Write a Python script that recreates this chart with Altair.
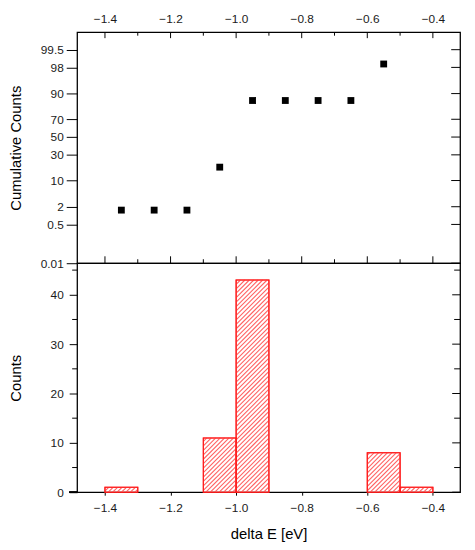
import altair as alt
import pandas as pd
from statistics import NormalDist

# ---- data ----
bin_start = [-1.4, -1.3, -1.2, -1.1, -1.0, -0.9, -0.8, -0.7, -0.6, -0.5]
bin_width = 0.1
counts = [1, 0, 0, 11, 43, 0, 0, 0, 8, 1]

prob_ticks = [0.01, 0.5, 2, 10, 30, 50, 70, 90, 98, 99.5]
x_major = [-1.4, -1.2, -1.0, -0.8, -0.6, -0.4]
x_minor = [-1.3, -1.1, -0.9, -0.7, -0.5]
count_major = [0, 10, 20, 30, 40]
count_minor = [5, 15, 25, 35, 45]

# ---- layout / style ----
W, H1, H2 = 388, 234, 232
X_DOMAIN = [-1.485, -0.317]
P_MIN, P_MAX = 0.01, 99.9
ND = NormalDist()
Z_DOMAIN = [ND.inv_cdf(P_MIN / 100), ND.inv_cdf(P_MAX / 100)]
C_DOMAIN = [0, 46.4]
FONT = "Liberation Sans"
BAR_RED = "#ff1a1a"
HATCH_RED = "#ff6262"

hist = pd.DataFrame({"start": bin_start, "count": counts})
hist["end"] = hist["start"] + bin_width

xs = alt.Scale(domain=X_DOMAIN, nice=False, zero=False)
zs = alt.Scale(domain=Z_DOMAIN, nice=False, zero=False)
cs = alt.Scale(domain=C_DOMAIN, nice=False, zero=False)

z_tick_vals = [ND.inv_cdf(p / 100) for p in prob_ticks]
zt = pd.DataFrame({"z": z_tick_vals})
xmaj = pd.DataFrame({"center": x_major})
xmin = pd.DataFrame({"center": x_minor})
cmaj = pd.DataFrame({"count": count_major})
cmin = pd.DataFrame({"count": count_minor})


def xrule(df, y0, y1):
    return alt.Chart(df).mark_rule(stroke="black", strokeWidth=1).encode(
        x=alt.X("center:Q"), y=alt.value(y0), y2=alt.value(y1))


# ---- top panel: cumulative counts on probability scale ----
points = alt.Chart(hist).transform_window(
    cum="sum(count)", sort=[alt.SortField("start")]
).transform_joinaggregate(total="sum(count)").transform_calculate(
    pct="100 * datum.cum / datum.total"
).transform_calculate(
    center="(datum.start + datum.end) / 2"
).transform_filter("datum.pct < 100").transform_calculate(
    z="quantileNormal(datum.pct / 100)"
).mark_point(shape="square", filled=True, color="black", size=48, opacity=1).encode(
    x=alt.X("center:Q", scale=xs, axis=alt.Axis(
        orient="top", values=x_major, format=".1f", ticks=False, domain=False,
        labelPadding=7, title=None, grid=False, tickCount=30)),
    y=alt.Y("z:Q", scale=zs, axis=alt.Axis(
        values=z_tick_vals, labelExpr="format(cumulativeNormal(datum.value) * 100, '.2~f')",
        tickSize=11, labelPadding=3, domain=False, grid=False, labelOverlap=False,
        tickCount=30,
        title="Cumulative Counts", titleX=-62, titleBaseline="middle")),
)

right_top = alt.Chart(zt).mark_rule(stroke="black", strokeWidth=1).encode(
    y=alt.Y("z:Q"), x=alt.value(W), x2=alt.value(W - 9))

top = alt.layer(
    points,
    xrule(xmaj, 0, 6), xrule(xmin, 0, 3.5),
    xrule(xmaj, H1, H1 - 7), xrule(xmin, H1, H1 - 4),
    right_top,
).properties(width=W, height=H1)

# ---- bottom panel: histogram with hatched bars ----
PX = W / (X_DOMAIN[1] - X_DOMAIN[0])
PY = H2 / (C_DOMAIN[1] - C_DOMAIN[0])
S = 4.5
XMIN = X_DOMAIN[0]

bars = alt.Chart(hist).transform_filter("datum.count > 0").mark_rect(
    fillOpacity=0, fill="white", stroke=BAR_RED, strokeWidth=1.1
).encode(
    x=alt.X("start:Q", scale=xs, axis=alt.Axis(
        values=x_major, format=".1f", tickSize=3, labelPadding=8, domain=False,
        grid=False, title="delta E [eV]", titlePadding=13, tickCount=30)),
    x2="end:Q",
    y=alt.Y("count:Q", scale=cs, axis=alt.Axis(
        values=count_major, tickSize=8, labelPadding=6, domain=False, grid=False,
        tickCount=30,
        title="Counts", titleX=-62, titleBaseline="middle")),
    y2=alt.datum(0),
)

# hatch lines X - Y = g (pixel space, global phase), clipped to each bar
hatch = alt.Chart(hist).transform_filter("datum.count > 0").transform_calculate(
    L=f"(datum.start - ({XMIN})) * {PX}"
).transform_calculate(
    bw=f"(datum.end - datum.start) * {PX}"
).transform_calculate(
    bh=f"datum.count * {PY}"
).transform_calculate(
    m0=f"ceil((datum.L - datum.bh) / {S})"
).transform_calculate(
    k=f"sequence(0, floor((datum.L + datum.bw) / {S}) - datum.m0 + 1)"
).transform_flatten(["k"]).transform_calculate(
    c=f"datum.L - (datum.m0 + datum.k) * {S}"
).transform_calculate(
    u0="max(0, -datum.c)"
).transform_calculate(
    u1="min(datum.bw, datum.bh - datum.c)"
).transform_filter("datum.u1 > datum.u0 + 0.3").transform_calculate(
    start2=f"datum.start + datum.u0 / {PX}"
).transform_calculate(
    end2=f"datum.start + datum.u1 / {PX}"
).transform_calculate(
    y0=f"(datum.u0 + datum.c) / {PY}"
).transform_calculate(
    y1=f"(datum.u1 + datum.c) / {PY}"
).mark_rule(stroke=HATCH_RED, strokeWidth=1.1).encode(
    x=alt.X("start2:Q"), x2="end2:Q",
    y=alt.Y("y0:Q"), y2="y1:Q",
)

def crule(df, x0, x1):
    return alt.Chart(df).mark_rule(stroke="black", strokeWidth=1).encode(
        y=alt.Y("count:Q"), x=alt.value(x0), x2=alt.value(x1))

axis_ext = alt.Chart(cmaj).mark_rule(stroke="black", strokeWidth=1.3).encode(
    y=alt.value(H2), x=alt.value(-8), x2=alt.value(0))

bottom = alt.layer(
    bars, hatch, bars,
    crule(cmin, 0, -5),
    crule(cmaj, W, W - 8), crule(cmin, W, W - 6),
    axis_ext,
).properties(width=W, height=H2)

chart = alt.vconcat(top, bottom, spacing=0, bounds="flush").configure_view(
    stroke="black", strokeWidth=1.3
).configure_axis(
    labelFont=FONT, titleFont=FONT, labelFontSize=12, titleFontSize=15,
    titleFontWeight="normal", labelColor="#1a1a1a", titleColor="black",
    tickColor="black", tickWidth=1, labelOverlap=False,
).properties(padding={"left": 0, "top": 0, "right": 5, "bottom": 5})

chart.save("out.html", embed_options={"renderer": "svg", "actions": False})
